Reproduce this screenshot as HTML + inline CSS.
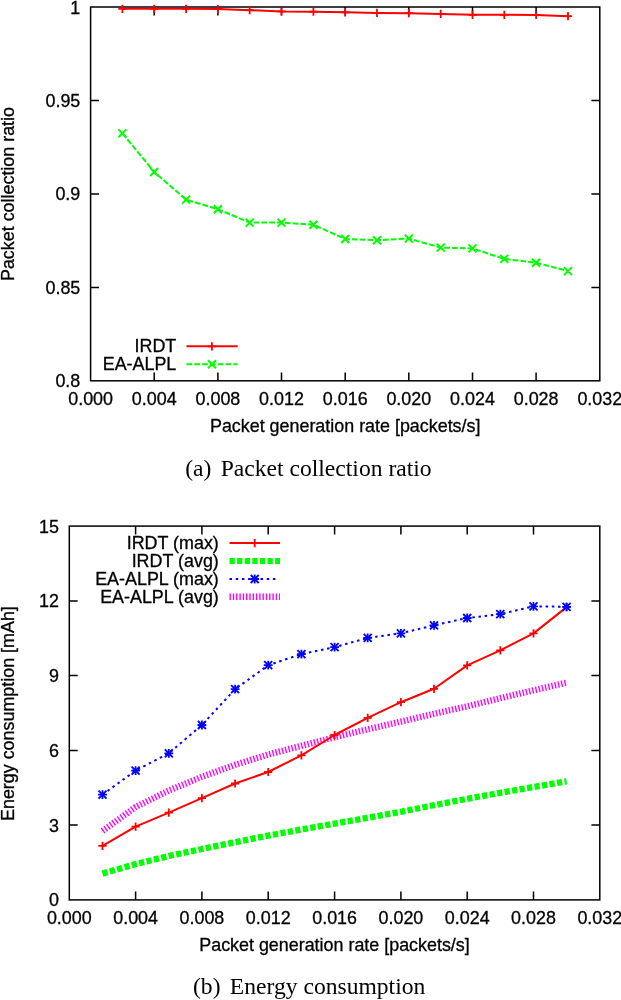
<!DOCTYPE html>
<html><head><meta charset="utf-8"><title>Figure</title>
<style>
html,body{margin:0;padding:0;background:#fff;}
body{width:621px;height:1000px;overflow:hidden;}
svg{display:block;}
.t{font-family:"Liberation Sans",Arial,Helvetica,sans-serif;font-size:17.9px;fill:#000;stroke:#000;stroke-width:0.3px;}
.c{font-family:"Liberation Serif","Times New Roman",serif;font-size:23.6px;fill:#000;}
</style></head><body>
<svg width="621" height="1000" viewBox="0 0 621 1000">
<rect width="621" height="1000" fill="#fff"/>
<rect x="90.6" y="7.0" width="509.2" height="373.8" stroke="#000" stroke-width="1.5" fill="none"/>
<path d="M154.2 380.9 v-8.4 M154.2 7.0 v8.4 M217.9 380.9 v-8.4 M217.9 7.0 v8.4 M281.5 380.9 v-8.4 M281.5 7.0 v8.4 M345.2 380.9 v-8.4 M345.2 7.0 v8.4 M408.8 380.9 v-8.4 M408.8 7.0 v8.4 M472.5 380.9 v-8.4 M472.5 7.0 v8.4 M536.1 380.9 v-8.4 M536.1 7.0 v8.4 M90.6 287.4 h8.4 M599.8 287.4 h-8.4 M90.6 194.0 h8.4 M599.8 194.0 h-8.4 M90.6 100.5 h8.4 M599.8 100.5 h-8.4 " stroke="#000" stroke-width="1.5" fill="none"/>
<text class="t" transform="translate(90.6,405.2) scale(1,1)" text-anchor="middle">0.000</text>
<text class="t" transform="translate(154.2,405.2) scale(1,1)" text-anchor="middle">0.004</text>
<text class="t" transform="translate(217.9,405.2) scale(1,1)" text-anchor="middle">0.008</text>
<text class="t" transform="translate(281.5,405.2) scale(1,1)" text-anchor="middle">0.012</text>
<text class="t" transform="translate(345.2,405.2) scale(1,1)" text-anchor="middle">0.016</text>
<text class="t" transform="translate(408.8,405.2) scale(1,1)" text-anchor="middle">0.020</text>
<text class="t" transform="translate(472.5,405.2) scale(1,1)" text-anchor="middle">0.024</text>
<text class="t" transform="translate(536.1,405.2) scale(1,1)" text-anchor="middle">0.028</text>
<text class="t" transform="translate(599.8,405.2) scale(1,1)" text-anchor="middle">0.032</text>
<text class="t" transform="translate(80.3,387.3) scale(1,1)" text-anchor="end">0.8</text>
<text class="t" transform="translate(80.3,293.8) scale(1,1)" text-anchor="end">0.85</text>
<text class="t" transform="translate(80.3,200.4) scale(1,1)" text-anchor="end">0.9</text>
<text class="t" transform="translate(80.3,106.9) scale(1,1)" text-anchor="end">0.95</text>
<text class="t" transform="translate(80.3,13.5) scale(1,1)" text-anchor="end">1</text>
<text class="t" transform="translate(345.2,431.6) scale(1,1)" text-anchor="middle">Packet generation rate [packets/s]</text>
<text class="t" transform="translate(14.3,194.0) rotate(-90) scale(1,1)" text-anchor="middle">Packet collection ratio</text>
<polyline points="122.4,8.8 154.2,8.8 186.1,8.8 217.9,9.0 249.7,10.2 281.5,11.4 313.4,11.7 345.2,12.3 377.0,12.9 408.8,13.2 440.7,13.9 472.5,14.8 504.3,14.8 536.1,15.0 568.0,16.2" stroke="#ff0000" stroke-width="2" fill="none" stroke-linejoin="round"/>
<path d="M118.3 8.8 h8.2 M122.4 4.7 v8.2 M150.2 8.8 h8.2 M154.2 4.7 v8.2 M182.0 8.8 h8.2 M186.1 4.7 v8.2 M213.8 9.0 h8.2 M217.9 4.9 v8.2 M245.6 10.2 h8.2 M249.7 6.1 v8.2 M277.4 11.4 h8.2 M281.5 7.3 v8.2 M309.3 11.7 h8.2 M313.4 7.6 v8.2 M341.1 12.3 h8.2 M345.2 8.2 v8.2 M372.9 12.9 h8.2 M377.0 8.8 v8.2 M404.7 13.2 h8.2 M408.8 9.1 v8.2 M436.6 13.9 h8.2 M440.7 9.8 v8.2 M468.4 14.8 h8.2 M472.5 10.7 v8.2 M500.2 14.8 h8.2 M504.3 10.7 v8.2 M532.0 15.0 h8.2 M536.1 10.9 v8.2 M563.9 16.2 h8.2 M568.0 12.1 v8.2 " stroke="#ff0000" stroke-width="1.8" fill="none"/>
<polyline points="122.4,133.4 154.2,172.0 186.1,199.6 217.9,209.2 249.7,222.6 281.5,222.6 313.4,224.7 345.2,239.0 377.0,240.2 408.8,238.6 440.7,247.6 472.5,248.4 504.3,258.9 536.1,262.7 568.0,271.1" stroke="#00ff00" stroke-width="2" fill="none" stroke-dasharray="5.8 2"/>
<path d="M118.4 129.4 l8.0 8.0 M118.4 137.4 l8.0 -8.0 M150.2 168.0 l8.0 8.0 M150.2 176.0 l8.0 -8.0 M182.1 195.6 l8.0 8.0 M182.1 203.6 l8.0 -8.0 M213.9 205.2 l8.0 8.0 M213.9 213.2 l8.0 -8.0 M245.7 218.6 l8.0 8.0 M245.7 226.6 l8.0 -8.0 M277.5 218.6 l8.0 8.0 M277.5 226.6 l8.0 -8.0 M309.4 220.7 l8.0 8.0 M309.4 228.7 l8.0 -8.0 M341.2 235.0 l8.0 8.0 M341.2 243.0 l8.0 -8.0 M373.0 236.2 l8.0 8.0 M373.0 244.2 l8.0 -8.0 M404.8 234.6 l8.0 8.0 M404.8 242.6 l8.0 -8.0 M436.7 243.6 l8.0 8.0 M436.7 251.6 l8.0 -8.0 M468.5 244.4 l8.0 8.0 M468.5 252.4 l8.0 -8.0 M500.3 254.9 l8.0 8.0 M500.3 262.9 l8.0 -8.0 M532.1 258.7 l8.0 8.0 M532.1 266.7 l8.0 -8.0 M564.0 267.1 l8.0 8.0 M564.0 275.1 l8.0 -8.0 " stroke="#00ff00" stroke-width="2" fill="none"/>
<text class="t" transform="translate(176.3,352.3) scale(1,1)" text-anchor="end">IRDT</text>
<text class="t" transform="translate(176.3,370.1) scale(1,1)" text-anchor="end">EA-ALPL</text>
<path d="M186.5 346.3 H237.7" stroke="#ff0000" stroke-width="2"/>
<path d="M207.8 346.3 h8.2 M211.9 342.2 v8.2 " stroke="#ff0000" stroke-width="1.8" fill="none"/>
<path d="M186.5 364.2 H237.7" stroke="#00ff00" stroke-width="2" stroke-dasharray="5.8 2"/>
<path d="M208.0 360.2 l8.0 8.0 M208.0 368.2 l8.0 -8.0 " stroke="#00ff00" stroke-width="2" fill="none"/>
<text class="c" x="185.2" y="475.6" >(a) <tspan dx="3.4">Packet collection ratio</tspan></text>
<rect x="69.3" y="526.1" width="530.5" height="373.8" stroke="#000" stroke-width="1.5" fill="none"/>
<path d="M135.6 899.9 v-8.4 M135.6 526.1 v8.4 M201.9 899.9 v-8.4 M201.9 526.1 v8.4 M268.2 899.9 v-8.4 M268.2 526.1 v8.4 M334.6 899.9 v-8.4 M334.6 526.1 v8.4 M400.9 899.9 v-8.4 M400.9 526.1 v8.4 M467.2 899.9 v-8.4 M467.2 526.1 v8.4 M533.5 899.9 v-8.4 M533.5 526.1 v8.4 M69.3 825.1 h8.4 M599.8 825.1 h-8.4 M69.3 750.4 h8.4 M599.8 750.4 h-8.4 M69.3 675.6 h8.4 M599.8 675.6 h-8.4 M69.3 600.9 h8.4 M599.8 600.9 h-8.4 " stroke="#000" stroke-width="1.5" fill="none"/>
<text class="t" transform="translate(69.3,924.2) scale(1,1)" text-anchor="middle">0.000</text>
<text class="t" transform="translate(135.6,924.2) scale(1,1)" text-anchor="middle">0.004</text>
<text class="t" transform="translate(201.9,924.2) scale(1,1)" text-anchor="middle">0.008</text>
<text class="t" transform="translate(268.2,924.2) scale(1,1)" text-anchor="middle">0.012</text>
<text class="t" transform="translate(334.6,924.2) scale(1,1)" text-anchor="middle">0.016</text>
<text class="t" transform="translate(400.9,924.2) scale(1,1)" text-anchor="middle">0.020</text>
<text class="t" transform="translate(467.2,924.2) scale(1,1)" text-anchor="middle">0.024</text>
<text class="t" transform="translate(533.5,924.2) scale(1,1)" text-anchor="middle">0.028</text>
<text class="t" transform="translate(599.8,924.2) scale(1,1)" text-anchor="middle">0.032</text>
<text class="t" transform="translate(59.0,906.3) scale(1,1)" text-anchor="end">0</text>
<text class="t" transform="translate(59.0,831.5) scale(1,1)" text-anchor="end">3</text>
<text class="t" transform="translate(59.0,756.8) scale(1,1)" text-anchor="end">6</text>
<text class="t" transform="translate(59.0,682.0) scale(1,1)" text-anchor="end">9</text>
<text class="t" transform="translate(59.0,607.3) scale(1,1)" text-anchor="end">12</text>
<text class="t" transform="translate(59.0,532.5) scale(1,1)" text-anchor="end">15</text>
<text class="t" transform="translate(334.5,951.0) scale(1,1)" text-anchor="middle">Packet generation rate [packets/s]</text>
<text class="t" transform="translate(13.9,713.6) rotate(-90) scale(1,1)" text-anchor="middle">Energy consumption [mAh]</text>
<polyline points="102.5,873.6 135.6,864.1 168.8,856.0 201.9,849.0 235.1,842.2 268.2,835.6 301.4,829.5 334.6,823.6 367.7,817.8 400.9,811.8 434.0,805.2 467.2,798.8 500.3,792.8 533.5,787.0 566.6,781.3" stroke="#00ff00" stroke-width="6.3" fill="none" stroke-dasharray="5.3 2.3"/>
<polyline points="102.5,831.0 135.6,807.0 168.8,790.5 201.9,776.8 235.1,764.8 268.2,754.5 301.4,745.8 334.6,737.2 367.7,729.3 400.9,721.6 434.0,713.8 467.2,706.3 500.3,698.2 533.5,690.4 566.6,682.7" stroke="#ff00ff" stroke-width="6.4" fill="none" stroke-dasharray="1.4 1.9"/>
<polyline points="102.5,845.9 135.6,826.7 168.8,812.7 201.9,798.1 235.1,783.5 268.2,772.0 301.4,755.3 334.6,735.0 367.7,717.8 400.9,702.2 434.0,688.8 467.2,665.4 500.3,650.4 533.5,633.4 566.6,607.1" stroke="#ff0000" stroke-width="2" fill="none" stroke-linejoin="round"/>
<path d="M98.4 845.9 h8.2 M102.5 841.8 v8.2 M131.5 826.7 h8.2 M135.6 822.6 v8.2 M164.7 812.7 h8.2 M168.8 808.6 v8.2 M197.8 798.1 h8.2 M201.9 794.0 v8.2 M231.0 783.5 h8.2 M235.1 779.4 v8.2 M264.1 772.0 h8.2 M268.2 767.9 v8.2 M297.3 755.3 h8.2 M301.4 751.2 v8.2 M330.4 735.0 h8.2 M334.6 730.9 v8.2 M363.6 717.8 h8.2 M367.7 713.7 v8.2 M396.8 702.2 h8.2 M400.9 698.1 v8.2 M429.9 688.8 h8.2 M434.0 684.7 v8.2 M463.1 665.4 h8.2 M467.2 661.3 v8.2 M496.2 650.4 h8.2 M500.3 646.3 v8.2 M529.4 633.4 h8.2 M533.5 629.3 v8.2 M562.5 607.1 h8.2 M566.6 603.0 v8.2 " stroke="#ff0000" stroke-width="1.8" fill="none"/>
<polyline points="102.5,794.6 135.6,770.6 168.8,753.3 201.9,725.0 235.1,689.2 268.2,665.2 301.4,654.1 334.6,647.2 367.7,637.9 400.9,633.3 434.0,625.3 467.2,618.0 500.3,614.2 533.5,606.3 566.6,606.8" stroke="#0000ff" stroke-width="2" fill="none" stroke-dasharray="2.5 3.7"/>
<path d="M98.1 794.6 h8.8 M102.5 790.2 v8.8 M131.2 770.6 h8.8 M135.6 766.2 v8.8 M164.4 753.3 h8.8 M168.8 748.9 v8.8 M197.5 725.0 h8.8 M201.9 720.6 v8.8 M230.7 689.2 h8.8 M235.1 684.8 v8.8 M263.8 665.2 h8.8 M268.2 660.8 v8.8 M297.0 654.1 h8.8 M301.4 649.7 v8.8 M330.2 647.2 h8.8 M334.6 642.8 v8.8 M363.3 637.9 h8.8 M367.7 633.5 v8.8 M396.5 633.3 h8.8 M400.9 628.9 v8.8 M429.6 625.3 h8.8 M434.0 620.9 v8.8 M462.8 618.0 h8.8 M467.2 613.6 v8.8 M495.9 614.2 h8.8 M500.3 609.8 v8.8 M529.1 606.3 h8.8 M533.5 601.9 v8.8 M562.2 606.8 h8.8 M566.6 602.4 v8.8 " stroke="#0000ff" stroke-width="1.8" fill="none"/>
<path d="M98.5 790.6 l8.0 8.0 M98.5 798.6 l8.0 -8.0 M131.6 766.6 l8.0 8.0 M131.6 774.6 l8.0 -8.0 M164.8 749.3 l8.0 8.0 M164.8 757.3 l8.0 -8.0 M197.9 721.0 l8.0 8.0 M197.9 729.0 l8.0 -8.0 M231.1 685.2 l8.0 8.0 M231.1 693.2 l8.0 -8.0 M264.2 661.2 l8.0 8.0 M264.2 669.2 l8.0 -8.0 M297.4 650.1 l8.0 8.0 M297.4 658.1 l8.0 -8.0 M330.6 643.2 l8.0 8.0 M330.6 651.2 l8.0 -8.0 M363.7 633.9 l8.0 8.0 M363.7 641.9 l8.0 -8.0 M396.9 629.3 l8.0 8.0 M396.9 637.3 l8.0 -8.0 M430.0 621.3 l8.0 8.0 M430.0 629.3 l8.0 -8.0 M463.2 614.0 l8.0 8.0 M463.2 622.0 l8.0 -8.0 M496.3 610.2 l8.0 8.0 M496.3 618.2 l8.0 -8.0 M529.5 602.3 l8.0 8.0 M529.5 610.3 l8.0 -8.0 M562.6 602.8 l8.0 8.0 M562.6 610.8 l8.0 -8.0 " stroke="#0000ff" stroke-width="1.9" fill="none"/>
<text class="t" transform="translate(218.8,548.7) scale(1,1)" text-anchor="end">IRDT (max)</text>
<text class="t" transform="translate(218.8,566.5) scale(1,1)" text-anchor="end">IRDT (avg)</text>
<text class="t" transform="translate(218.8,585.1) scale(1,1)" text-anchor="end">EA-ALPL (max)</text>
<text class="t" transform="translate(218.8,602.9) scale(1,1)" text-anchor="end">EA-ALPL (avg)</text>
<path d="M229.5 543.1 H280" stroke="#ff0000" stroke-width="2"/>
<path d="M250.6 543.1 h8.2 M254.7 539.0 v8.2 " stroke="#ff0000" stroke-width="1.8" fill="none"/>
<path d="M229.5 560.9 H280" stroke="#00ff00" stroke-width="6" stroke-dasharray="5.3 2.3"/>
<path d="M229.5 579.0 H277.5" stroke="#0000ff" stroke-width="2" stroke-dasharray="2.5 3.7"/>
<path d="M250.3 579.0 h8.8 M254.7 574.6 v8.8 " stroke="#0000ff" stroke-width="1.8" fill="none"/>
<path d="M250.7 575.0 l8.0 8.0 M250.7 583.0 l8.0 -8.0 " stroke="#0000ff" stroke-width="1.9" fill="none"/>
<path d="M229.5 596.8 H280" stroke="#ff00ff" stroke-width="6.4" stroke-dasharray="1.4 1.9"/>
<text class="c" x="193" y="994" >(b) <tspan dx="3.4">Energy consumption</tspan></text>
</svg>
</body></html>
